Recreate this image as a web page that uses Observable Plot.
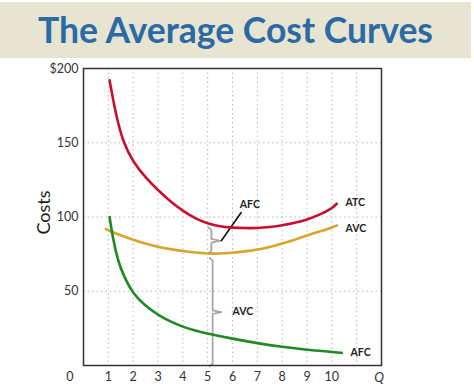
<!DOCTYPE html>
<html>
<head>
<meta charset="utf-8">
<script src="https://cdn.jsdelivr.net/npm/d3@7"></script>
<script src="https://cdn.jsdelivr.net/npm/@observablehq/plot@0.6"></script>
<style>
  html, body { margin: 0; padding: 0; background: #fff; }
  #wrap { width: 474px; height: 390px; position: relative; overflow: hidden; }
  #title {
    position: absolute; left: 0; top: 2px; width: 471px; height: 56px;
    background: #e7e5d1; color: #2c6aa6;
    font-family: Lato, "Open Sans", sans-serif; font-weight: 700; font-size: 35.5px;
    text-align: center; line-height: 56px;
  }
  #chart { position: absolute; left: 0; top: 58px; }
</style>
</head>
<body>
<div id="wrap">
  <div id="title">The Average Cost Curves</div>
  <div id="chart"></div>
</div>
<script>
// Quantities and values
const atcQ = [1.05, 1.3, 1.6, 2, 2.5, 3, 3.5, 4, 4.5, 5, 5.5, 6, 6.5, 7, 7.5, 8, 8.5, 9, 9.5, 10, 10.2];
const atcV = [192, 169, 150, 137, 126.5, 118, 110.5, 104, 99, 95.5, 93.5, 92.8, 92.5, 92.5, 93.2, 94.3, 96, 98.2, 101.5, 105.6, 109];

const avcQ = [0.9, 1, 1.5, 2, 2.5, 3, 3.5, 4, 4.5, 5, 5.5, 6, 6.5, 7, 7.5, 8, 8.5, 9, 9.5, 10, 10.2];
const avcV = [92, 91, 87.6, 84.7, 82, 79.9, 78.3, 77, 76, 75.3, 75.3, 75.9, 76.8, 78, 79.8, 82, 84.7, 87.6, 90.2, 92.8, 94.3];

const afcQ = [1.05, 1.2, 1.4, 1.6, 2, 2.5, 3, 3.5, 4, 4.5, 5, 6, 7, 8, 9, 10, 10.4];
const afcV = [100, 84, 70, 61, 48, 40, 34, 29.5, 26, 23.5, 21.5, 18, 15, 12.5, 10.5, 9.2, 8.5];

const xTicks = [1, 2, 3, 4, 5, 6, 7, 8, 9, 10];
const xGrid = [1, 2, 3, 4, 5, 6, 7, 8, 9, 10, 11];
const yTicks = [50, 100, 150, 200];
const yTickLabels = ["50", "100", "150", "$200"];

const curveLabels = [
  {name: "ATC", q: 10.55, v: 110},
  {name: "AVC", q: 10.55, v: 92},
  {name: "AFC", q: 10.75, v: 9}
];

// Brace annotation at output Q = 5.15
const braceQ = 5.15;
const braceTop = 92.5, braceMid = 84, braceBottom = 76;   // AFC gap between ATC and AVC
const brace2Top = 72, brace2Mid = 36, brace2Bottom = 0;   // AVC height

const toRows = (qs, vs) => qs.map((q, i) => ({q, v: vs[i]}));
const atc = toRows(atcQ, atcV), avc = toRows(avcQ, avcV), afc = toRows(afcQ, afcV);

function brace(q, top, mid, bottom) {
  const h = 0.12, w = 0.35, e = 1.2;
  return [
    {q: q - h, v: top + 0.4}, {q: q, v: top - e},
    {q: q, v: mid + e}, {q: q + w, v: mid}, {q: q, v: mid - e},
    {q: q, v: bottom + e}, {q: q - h, v: bottom - 0.4}
  ];
}

const chart = Plot.plot({
  width: 474,
  height: 332,
  marginLeft: 83,
  marginRight: 93,
  marginTop: 10,
  marginBottom: 25,
  style: {fontFamily: "Lato, 'Open Sans', sans-serif", fontSize: "12px", color: "#333", background: "#fff"},
  x: {domain: [0, 12]},
  y: {domain: [0, 200]},
  marks: [
    Plot.gridX(xGrid, {stroke: "#b8b8b8", strokeOpacity: 1, strokeDasharray: "1.5,3"}),
    Plot.gridY([50, 100, 150], {stroke: "#b8b8b8", strokeOpacity: 1, strokeDasharray: "1.5,3"}),
    Plot.axisX(xTicks, {tickSize: 0, tickPadding: 7, label: null, fontSize: 12.5, fill: "#333"}),
    Plot.axisY(yTicks, {tickSize: 0, tickPadding: 5, label: null, fontSize: 12.5, fill: "#333",
      tickFormat: (d) => yTickLabels[yTicks.indexOf(d)]}),
    Plot.text(["0"], {x: -0.55, y: 0, dy: 7, lineAnchor: "top", fontSize: 12.5, fill: "#333"}),
    Plot.text(["Q"], {x: 11.9, y: 0, dy: 7, lineAnchor: "top", fontSize: 13, fontStyle: "italic", fill: "#333"}),
    Plot.text(["Costs"], {x: -1.6, y: 103, rotate: -90, fontSize: 18, fill: "#222"}),
    // braces
    Plot.line(brace(braceQ, braceTop, braceMid, braceBottom), {x: "q", y: "v", stroke: "#a5a8a8", strokeWidth: 1.8}),
    Plot.line(brace(braceQ + 0.05, brace2Top, brace2Mid, brace2Bottom), {x: "q", y: "v", stroke: "#a5a8a8", strokeWidth: 1.8}),
    Plot.line([{q: braceQ + 0.4, v: braceMid}, {q: 6.35, v: 103}], {x: "q", y: "v", stroke: "#111", strokeWidth: 1.6}),
    Plot.text(["AFC"], {x: 6.7, y: 108.5, fontSize: 10.5, fontWeight: "bold", fill: "#222"}),
    Plot.text(["AVC"], {x: 6.0, y: 36, fontSize: 10.5, fontWeight: "bold", fill: "#222", textAnchor: "start"}),
    // curves
    Plot.line(avc, {x: "q", y: "v", stroke: "#d6a52b", strokeWidth: 2.6, curve: "basis"}),
    Plot.line(afc, {x: "q", y: "v", stroke: "#1f8a22", strokeWidth: 2.6, curve: "basis"}),
    Plot.line(atc, {x: "q", y: "v", stroke: "#c8102e", strokeWidth: 2.6, curve: "basis"}),
    Plot.text(curveLabels, {x: "q", y: "v", text: "name", fontSize: 10.5, fontWeight: "bold", fill: "#222", textAnchor: "start"}),
    Plot.frame({stroke: "#333", strokeWidth: 1.5})
  ]
});
document.getElementById("chart").appendChild(chart);
</script>
</body>
</html>
